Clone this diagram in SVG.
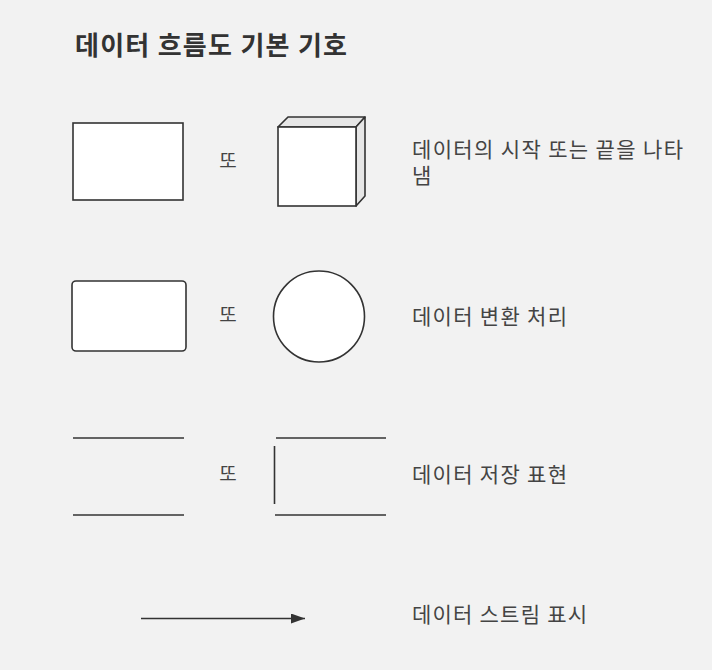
<svg xmlns="http://www.w3.org/2000/svg" width="712" height="670" viewBox="0 0 712 670">
<defs>
<style>
.sh{fill:#ffffff;stroke:#333333;stroke-width:1.6}
.side{fill:#e6e6e6;stroke:#333333;stroke-width:1.6;stroke-linejoin:round}
.ln{stroke:#333333;stroke-width:1.6;fill:none}
.t{font-family:"Noto Sans CJK KR","Noto Sans",sans-serif;font-size:21px;fill:#444444}
.or{font-family:"Noto Sans CJK KR","Noto Sans",sans-serif;font-size:19px;fill:#444444;text-anchor:middle}
.title{font-family:"Noto Sans CJK KR","Noto Sans",sans-serif;font-size:26px;font-weight:bold;fill:#333333}
</style>
<marker id="ah" markerWidth="14" markerHeight="10" refX="14" refY="5" orient="auto" markerUnits="userSpaceOnUse">
<path d="M0,0 L14,5 L0,10 Z" fill="#333333"/>
</marker>
</defs>
<rect x="0" y="0" width="712" height="670" fill="#f2f2f2"/>
<text class="title" x="75" y="55" textLength="272" lengthAdjust="spacing">데이터 흐름도 기본 기호</text>

<g id="external-entity-rect">
<rect class="sh" x="73" y="123" width="110" height="77"/>
</g>
<text class="or" x="228" y="168">또</text>
<g id="external-entity-cube">
<polygon class="side" points="278,127 288,117 365,117 356,127"/>
<polygon class="side" points="356,127 365,117 365,196 356,206"/>
<rect class="sh" x="278" y="127" width="78" height="79"/>
</g>
<text class="t" x="412" y="157" textLength="271" lengthAdjust="spacing">데이터의 시작 또는 끝을 나타</text>
<text class="t" x="412" y="183">냄</text>

<g id="process-rect">
<rect class="sh" x="72" y="281" width="114" height="70" rx="4"/>
</g>
<text class="or" x="228" y="322">또</text>
<g id="process-circle">
<circle class="sh" cx="319" cy="316.5" r="45.5"/>
</g>
<text class="t" x="412" y="324" textLength="155" lengthAdjust="spacing">데이터 변환 처리</text>

<g id="store-open">
<line class="ln" x1="73" y1="438" x2="184" y2="438"/>
<line class="ln" x1="73" y1="515" x2="184" y2="515"/>
</g>
<text class="or" x="228" y="481">또</text>
<g id="store-closed">
<line class="ln" x1="276" y1="438" x2="386" y2="438"/>
<line class="ln" x1="274.5" y1="446" x2="274.5" y2="504"/>
<line class="ln" x1="275" y1="515" x2="386" y2="515"/>
</g>
<text class="t" x="412" y="482" textLength="155" lengthAdjust="spacing">데이터 저장 표현</text>

<g id="connectors">
<line class="ln" x1="141" y1="618.5" x2="305" y2="618.5" marker-end="url(#ah)"/>
</g>
<text class="t" x="412" y="622" textLength="175" lengthAdjust="spacing">데이터 스트림 표시</text>
</svg>
